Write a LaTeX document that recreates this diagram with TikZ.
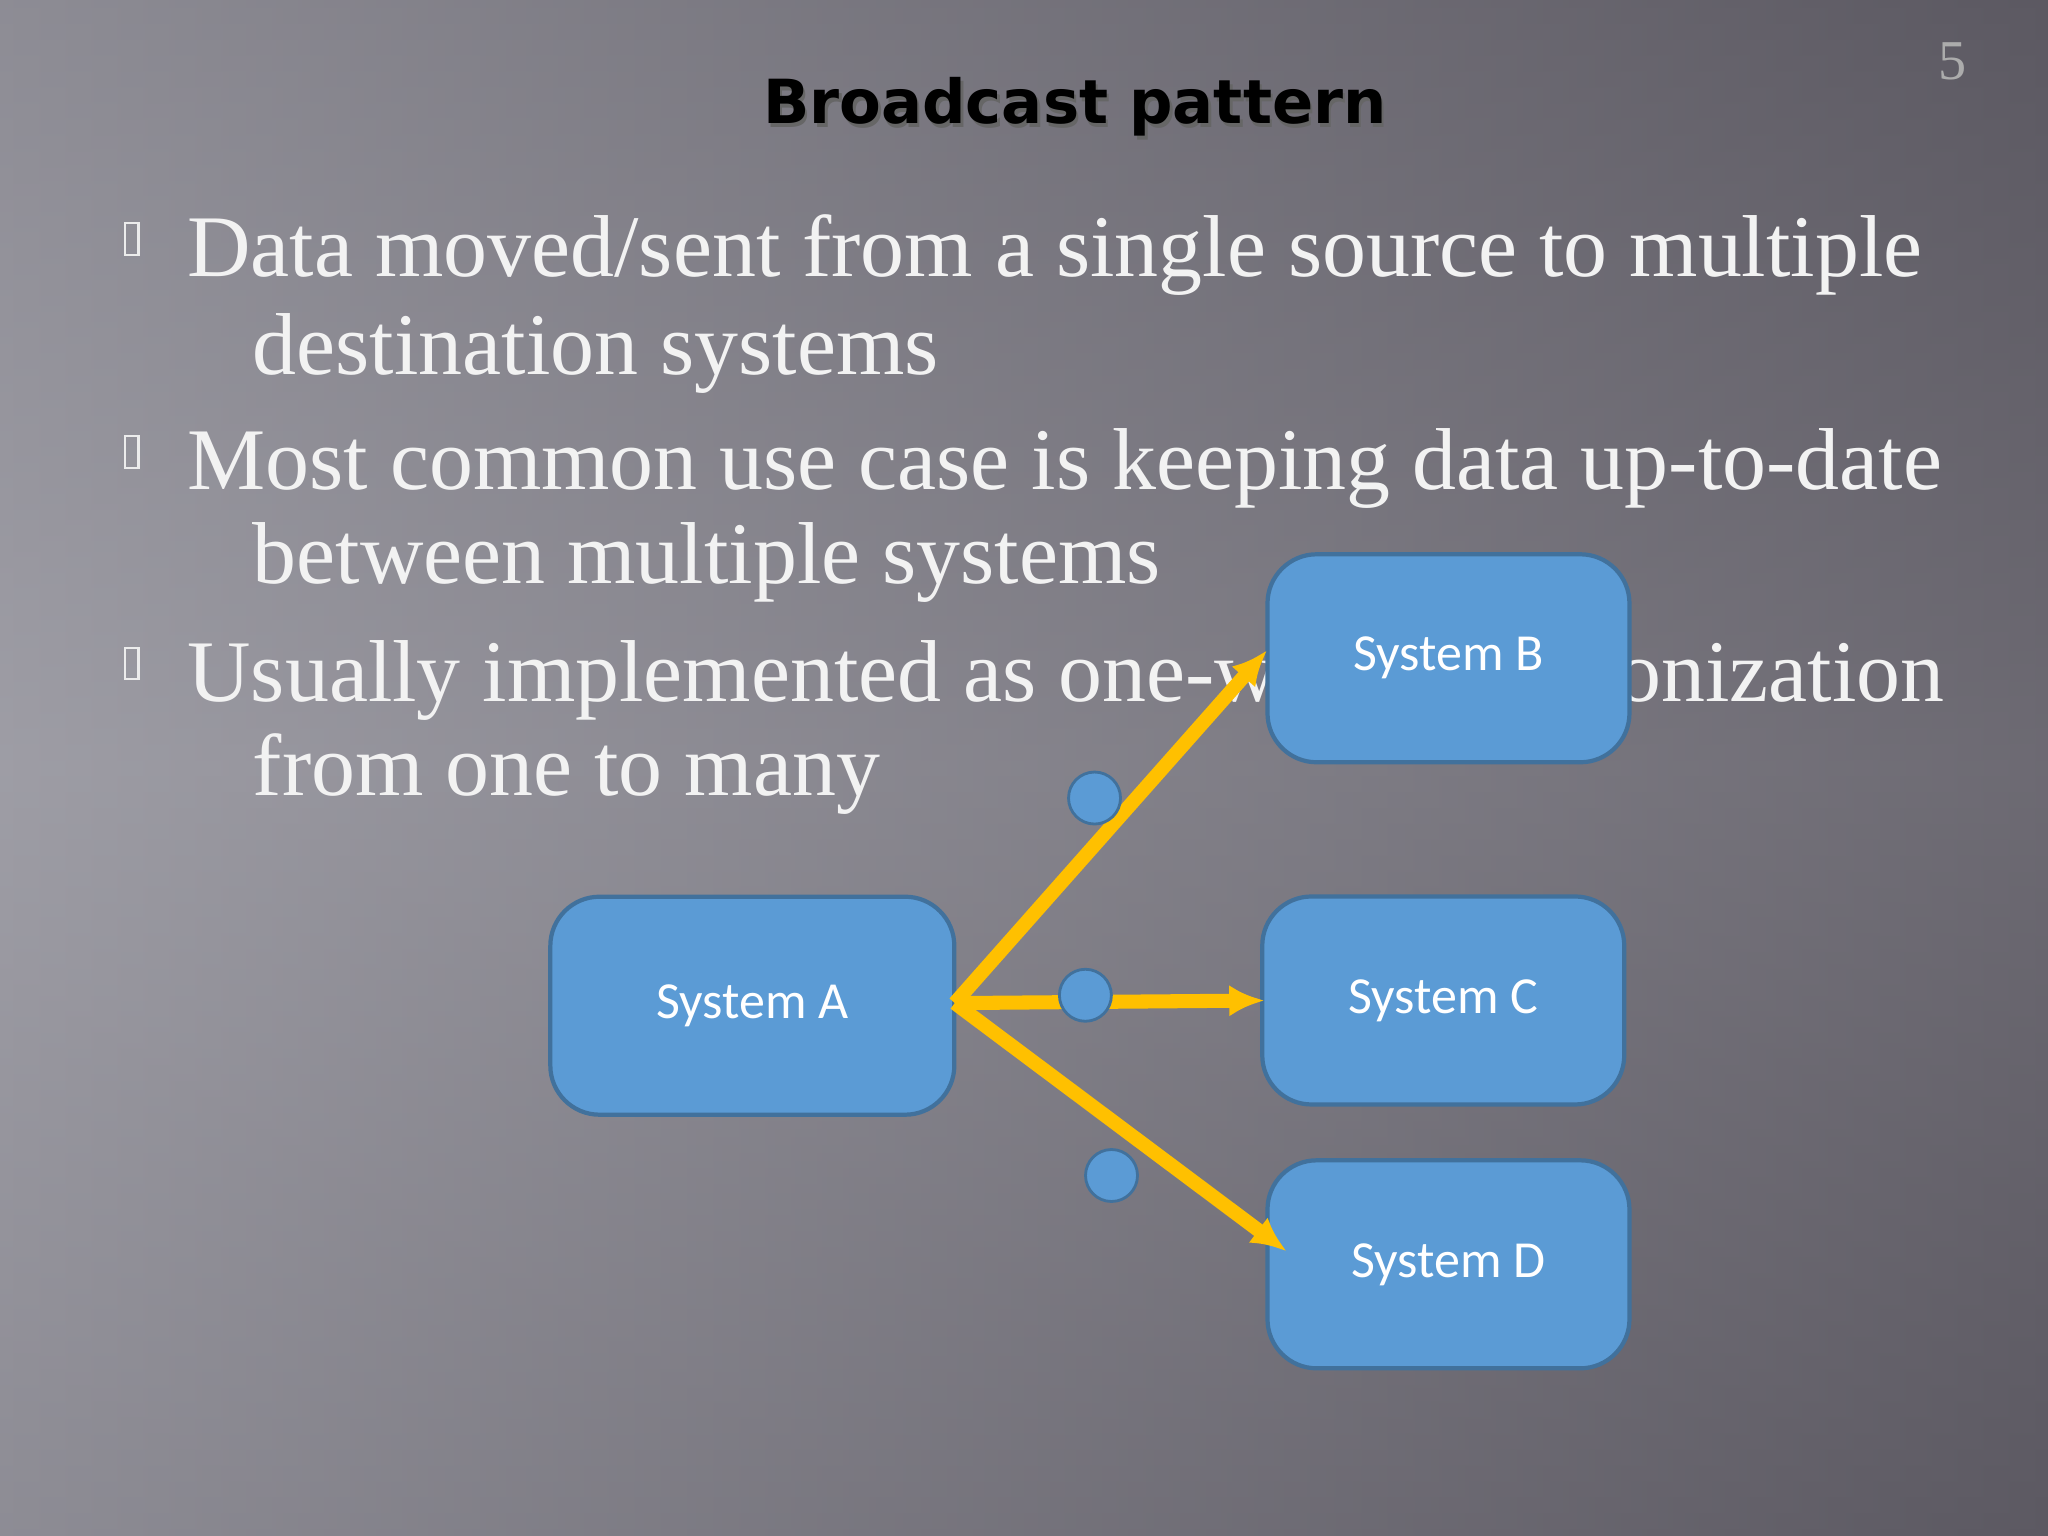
\documentclass[tikz,border=0pt]{standalone}
\usetikzlibrary{arrows.meta}
\usepackage{fontspec}
\setmainfont{Liberation Serif}
\newfontfamily\sansf{Carlito}
\newfontfamily\titlef{DejaVu Sans}
\definecolor{bdr}{RGB}{65,113,156}
\definecolor{boxf}{RGB}{91,155,213}
\begin{document}
\begin{tikzpicture}[x=0.01306cm,y=-0.01306cm,
  sys/.style={draw=bdr,line width=1.2pt,fill=boxf,rounded corners=14pt,font=\sansf\fontsize{14.8}{17}\selectfont,text=white},
  bul/.style={anchor=base west,text={rgb,255:red,242;green,242;blue,242},font=\fontsize{25}{30}\selectfont,inner sep=0},
  arr/.style={draw={rgb,255:red,255;green,192;blue,0},line width=4pt,-{Latex[length=10pt,width=9pt]}},
  dot/.style={circle,fill=boxf,draw=bdr,line width=0.8pt,minimum size=0.52cm,inner sep=0}]
\useasboundingbox (0,0) rectangle (1568,1176);
\shade[left color={rgb,255:red,168;green,168;blue,176},right color={rgb,255:red,92;green,89;blue,98}] (0,0) rectangle (1568,1176);
\shade[top color={rgb,255:red,92;green,89;blue,98},bottom color={rgb,255:red,92;green,89;blue,98},middle color={rgb,255:red,140;green,138;blue,146},opacity=0.35] (0,0) rectangle (1568,1176);
\node[text=white!35!gray,font=\fontsize{16}{18}\selectfont] (num) at (1495,47) {5};
\node[text=black!60,font=\titlef\bfseries\fontsize{17.3}{20}\selectfont] at (825,85) {Broadcast pattern};
\node[font=\titlef\bfseries\fontsize{17.3}{20}\selectfont] (title) at (823,82) {Broadcast pattern};
\foreach \y in {185,348,510}{\draw[white!85!gray,line width=0.6pt] (96,\y-14) rectangle (106,\y+10);}
\node[bul] (t1) at (143,212) {Data moved/sent from a single source to multiple};
\node[bul] (t2) at (193,287) {destination systems};
\node[bul] (t3) at (143,375) {Most common use case is keeping data up-to-date};
\node[bul] (t4) at (193,447) {between multiple systems};
\node[bul] (t5) at (143,537) {Usually implemented as one-way synchronization};
\node[bul] (t6) at (193,609) {from one to many};
\node[sys,minimum width=4.04cm,minimum height=2.18cm] (A) at (576,770) {System A};
\node[sys,minimum width=3.62cm,minimum height=2.08cm] (B) at (1109,504) {System B};
\node[sys,minimum width=3.62cm,minimum height=2.08cm] (C) at (1105,766) {System C};
\node[sys,minimum width=3.62cm,minimum height=2.08cm] (D) at (1109,968) {System D};
\coordinate (a0) at (731,768);
\coordinate (bE) at (970,498);
\coordinate (cE) at (968,766);
\coordinate (dE) at (985,958);
\draw[arr] (a0) -- (bE);
\draw[arr] (a0) -- (cE);
\draw[arr] (a0) -- (dE);
\node[dot] (d1) at (838,611) {};
\node[dot] (d2) at (831,762) {};
\node[dot] (d3) at (851,900) {};
\end{tikzpicture}
\end{document}
